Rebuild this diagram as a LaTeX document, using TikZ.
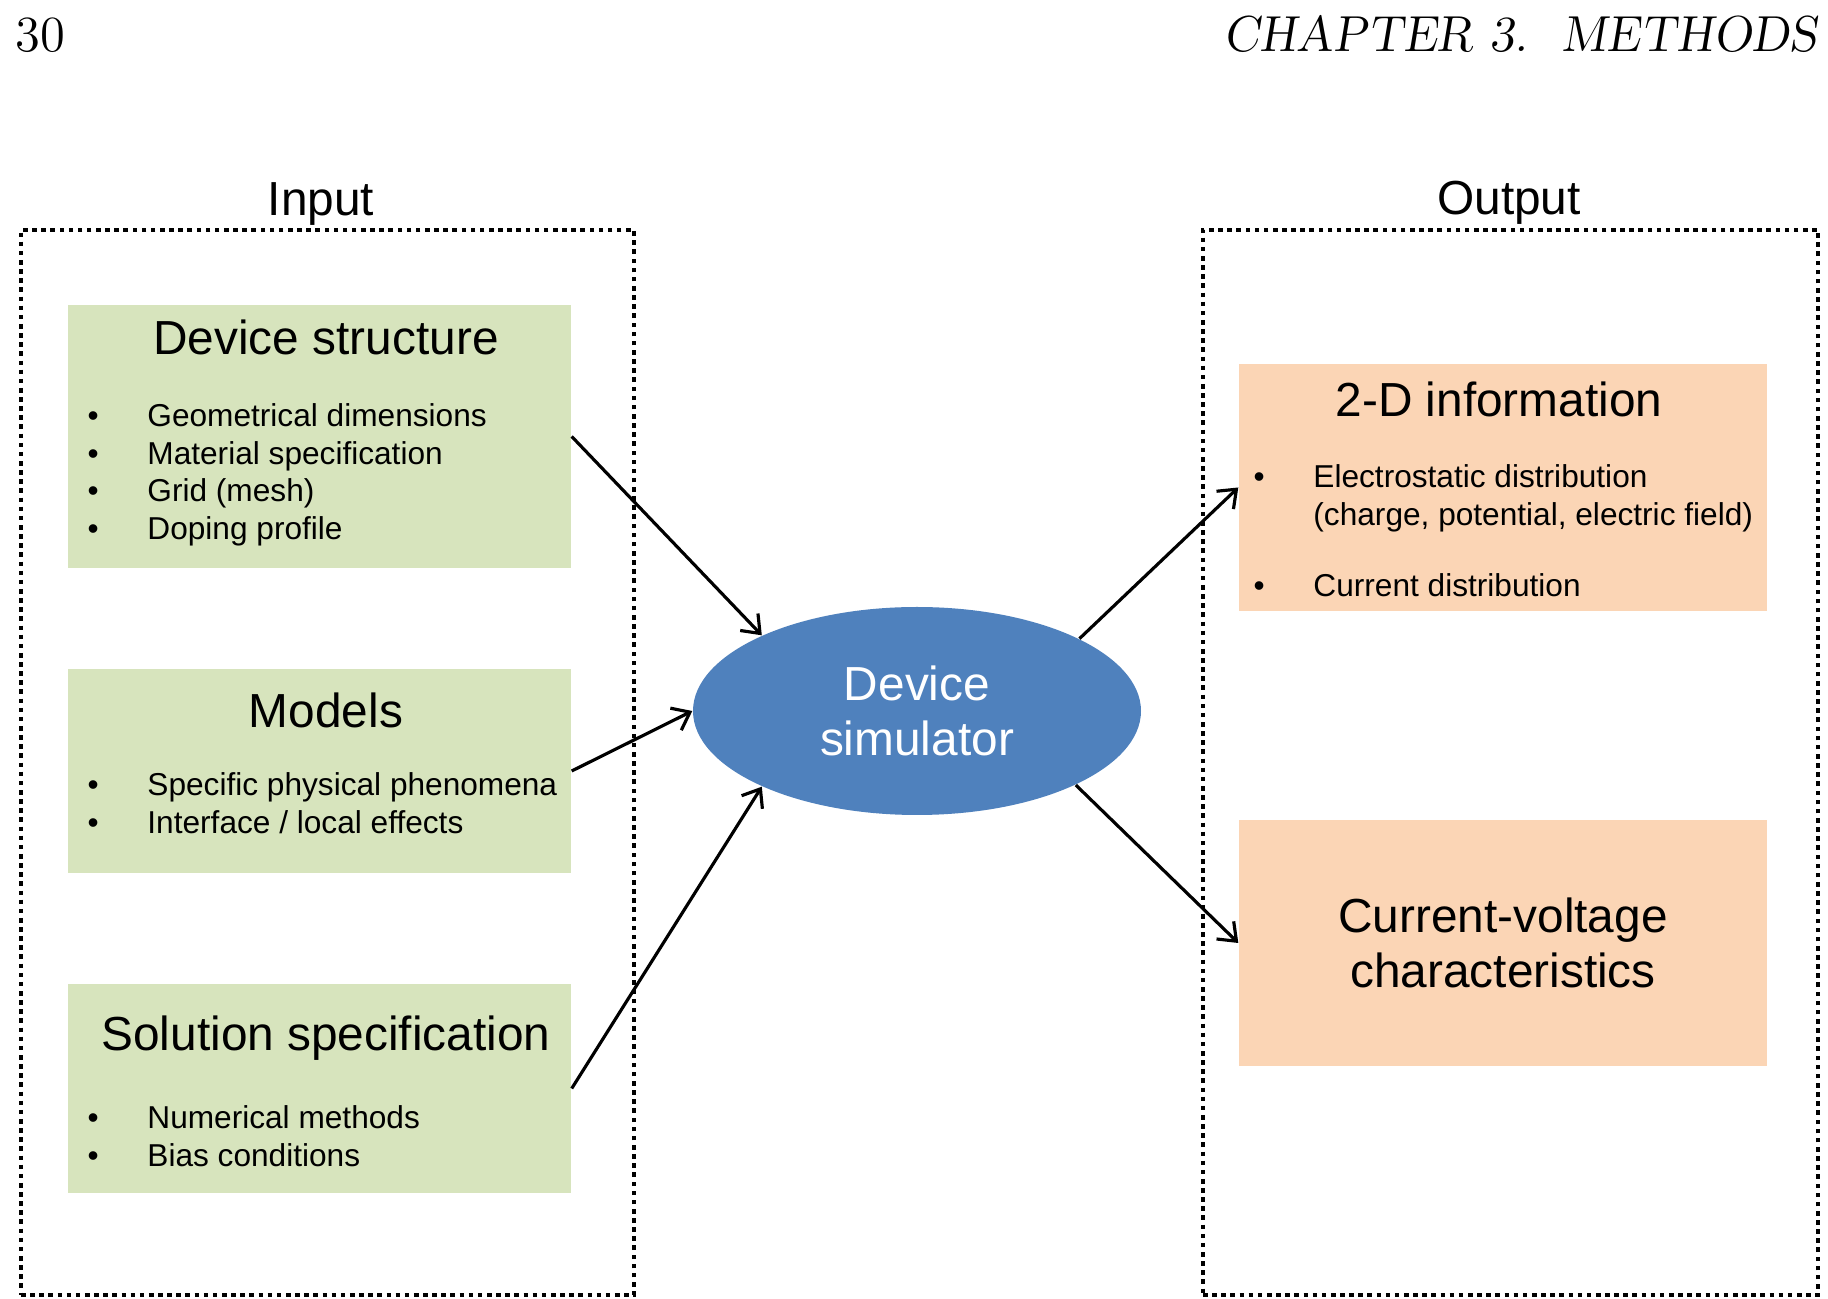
\documentclass[tikz,border=0pt]{standalone}
\usepackage{fontspec}
\newfontfamily\arial{Liberation Sans}
\usetikzlibrary{arrows.meta,shapes.geometric}
\definecolor{verde}{RGB}{215,228,189}
\definecolor{laranja}{RGB}{251,213,181}
\definecolor{azul}{RGB}{79,129,189}
\newcommand{\bul}{\makebox[17pt][l]{\textbullet}}
\newcommand{\titfont}{\arial\fontsize{13.6}{15.8}\selectfont}
\tikzset{
  moldura/.style={draw,line width=1.4pt,dash pattern=on 1.3pt off 1.3pt,inner sep=0pt},
  caixa/.style={rectangle,inner sep=0pt,minimum width=50.3mm},
  titulo/.style={anchor=base,inner sep=0pt,font=\titfont},
  lista/.style={anchor=base west,inner sep=0pt,font=\arial\fontsize{9}{10.67}\selectfont},
  seta/.style={-{Straight Barb[length=4.5pt,width=7pt]},line width=0.9pt},
}
\begin{document}
\begin{tikzpicture}[x=0.1mm,y=-0.1mm]
  \useasboundingbox[fill=white] (0,0) rectangle (1828,1299);
  % cabeçalho da página
  \node[anchor=base west,inner sep=0pt,font=\fontsize{14.4}{16}\selectfont] (pag) at (15,52) {30};
  \node[anchor=base east,inner sep=0pt,font=\fontsize{14.4}{16}\selectfont\slshape] (cap) at (1818,52) {CHAPTER 3.\ \ METHODS};
  % molduras pontilhadas de entrada e saída
  \node[moldura,minimum width=61.3mm,minimum height=106.5mm] (entrada) at (327.5,762.5) {};
  \node[moldura,minimum width=61.5mm,minimum height=106.5mm] (saida) at (1510.5,762.5) {};
  \node[titulo] (tin) at (321,216) {Input};
  \node[titulo] (tout) at (1509,215) {Output};
  % caixas verdes (entrada)
  \foreach \nome/\yc/\alt in {dev/436.5/26.3, mod/771/20.4, sol/1088.5/20.9}
    \node[caixa,fill=verde,minimum height=\alt mm] (\nome) at (319.5,\yc) {};
  \node[titulo] (tdev) at (326,355) {Device structure};
  \node[lista] (ldev) at (87,427) {\begin{tabular}[t]{@{}l@{}}
    \bul Geometrical dimensions\\ \bul Material specification\\
    \bul Grid (mesh)\\ \bul Doping profile\end{tabular}};
  \node[titulo] (tmod) at (326,728) {Models};
  \node[lista] (lmod) at (87,796) {\begin{tabular}[t]{@{}l@{}}
    \bul Specific physical phenomena\\ \bul Interface / local effects\end{tabular}};
  \node[titulo] (tsol) at (326,1051) {Solution specification};
  \node[lista] (lsol) at (87,1129) {\begin{tabular}[t]{@{}l@{}}
    \bul Numerical methods\\ \bul Bias conditions\end{tabular}};
  % simulador
  \node[ellipse,fill=azul,inner sep=0pt,minimum width=44.8mm,minimum height=20.8mm,
        text=white,font=\titfont,align=center] (sim) at (917,711) {Device\\simulator};
  % caixas laranja (saída)
  \node[caixa,fill=laranja,minimum width=52.8mm,minimum height=24.7mm] (info) at (1503,487.5) {};
  \node[titulo] (tinfo) at (1499,417) {2-D information};
  \node[lista] (linfo) at (1253,488) {\begin{tabular}[t]{@{}l@{}}
    \bul Electrostatic distribution\\ \hspace{17pt}(charge, potential, electric field)\\[9.5pt]
    \bul Current distribution\end{tabular}};
  \node[caixa,fill=laranja,minimum width=52.8mm,minimum height=24.6mm,
        font=\titfont,align=center] (iv) at (1503,943) {Current-voltage\\characteristics};
  % setas
  \foreach \de/\para in {dev.east/sim.154, mod.east/sim.west, sol.east/sim.206,
                         sim.24/info.west, sim.335/iv.west}
    \draw[seta] (\de) -- (\para);
\end{tikzpicture}
\end{document}
